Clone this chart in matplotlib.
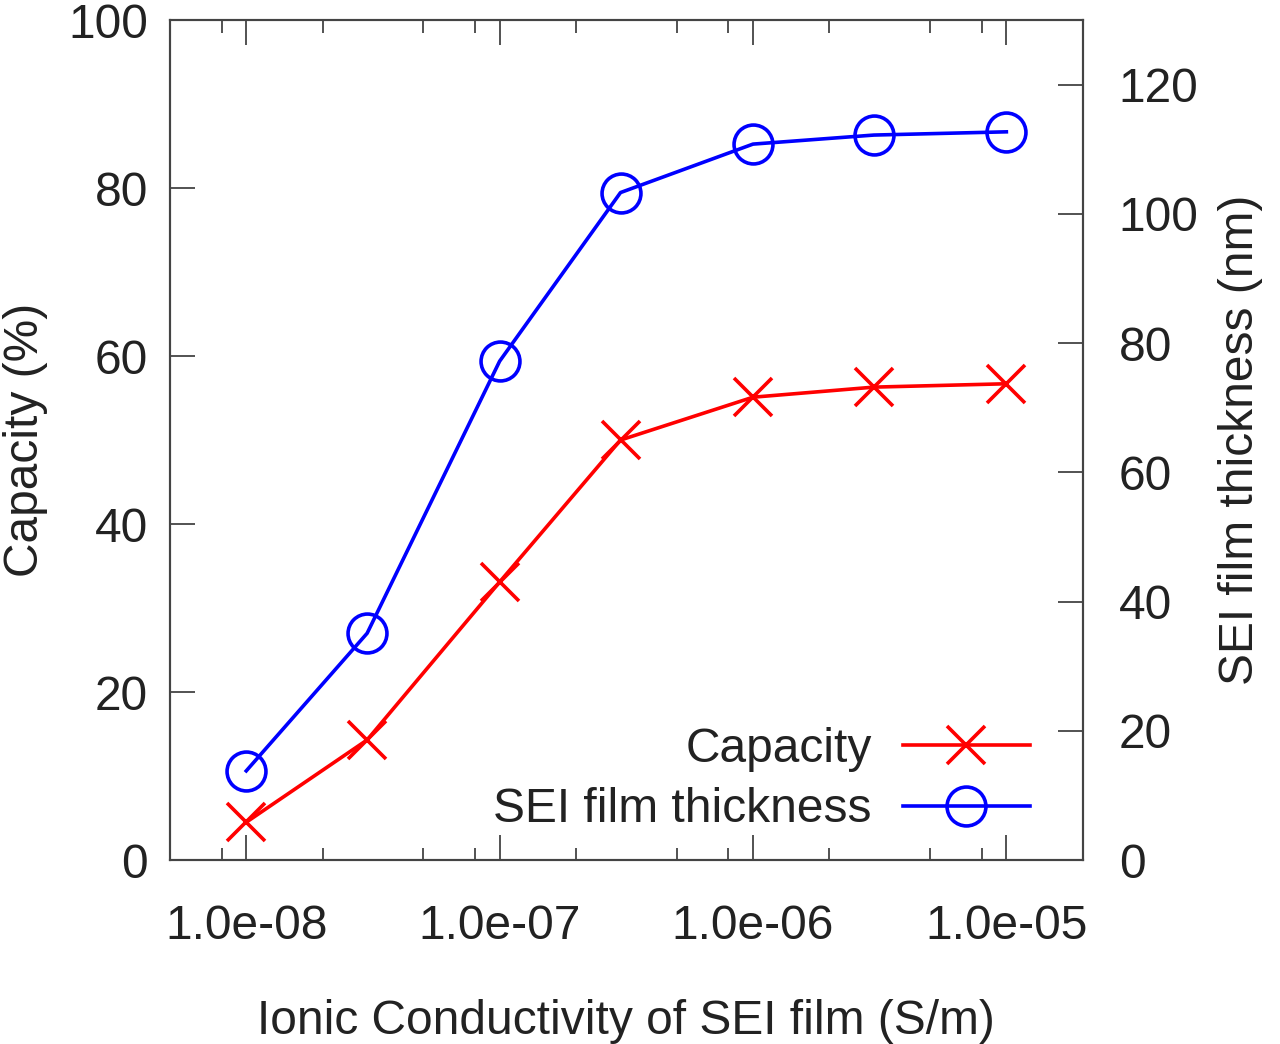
import matplotlib
matplotlib.use("Agg")
import matplotlib.pyplot as plt
from matplotlib.ticker import FixedLocator, FixedFormatter

plt.rcParams['font.family'] = ['Liberation Sans', 'DejaVu Sans']

conductivity = [1e-8, 3e-8, 1e-7, 3e-7, 1e-6, 3e-6, 1e-5]
capacity = [4.5, 14.3, 33.1, 50.0, 55.1, 56.3, 56.7]
sei_thickness = [13.8, 35.1, 77.2, 103.3, 110.8, 112.2, 112.7]

x_major = [1e-8, 1e-7, 1e-6, 1e-5]
x_labels = ["1.0e-08", "1.0e-07", "1.0e-06", "1.0e-05"]
x_minor = [m * 10.0 ** e for e in (-9, -8, -7, -6, -5) for m in (2, 5, 8)]

ink = "#222222"
fs = 34.5

fig = plt.figure(figsize=(12.8, 10.44), dpi=100)
ax = fig.add_axes([0.1328, 0.1762, 0.713, 0.8046])
ax2 = ax.twinx()

ax.set_xscale("log")
ax.set_xlim(5e-9, 2e-5)
ax.set_ylim(0, 100)
ax2.set_ylim(0, 130)

l1, = ax.plot(conductivity, capacity, color="#ff0000", lw=2.6, marker="x",
              markersize=27, markeredgewidth=2.6, label="Capacity")
l2, = ax2.plot(conductivity, sei_thickness, color="#0000ff", lw=2.6, marker="o",
               markersize=28, markeredgewidth=2.6, markerfacecolor="none",
               label="SEI film thickness")

ax.xaxis.set_major_locator(FixedLocator(x_major))
ax.xaxis.set_major_formatter(FixedFormatter(x_labels))
ax.xaxis.set_minor_locator(FixedLocator([v for v in x_minor if 5e-9 < v < 2e-5]))
ax.xaxis.set_minor_formatter(FixedFormatter([]))
ax.set_yticks([0, 20, 40, 60, 80, 100])
ax2.set_yticks([0, 20, 40, 60, 80, 100, 120])

for a in (ax, ax2):
    for s in a.spines.values():
        s.set_color("#444444")
        s.set_linewidth(1.5)

ax.tick_params(axis="x", which="major", direction="in", length=18, width=1.3,
               top=True, colors="#444444", labelcolor=ink, labelsize=fs, pad=32)
ax.tick_params(axis="x", which="minor", direction="in", length=9, width=1.3,
               top=True, colors="#444444")
ax.tick_params(axis="y", direction="in", length=18, width=1.3, colors="#444444",
               labelcolor=ink, labelsize=fs, pad=16)
ax2.tick_params(axis="y", direction="in", length=18, width=1.3, colors="#444444",
                labelcolor=ink, labelsize=fs, pad=26)

ax.set_xlabel("Ionic Conductivity of SEI film (S/m)", fontsize=fs, color=ink, labelpad=36)
ax.set_ylabel("Capacity (%)", fontsize=fs, color=ink, labelpad=14)
ax2.set_ylabel("SEI film thickness (nm)", fontsize=fs, color=ink, labelpad=14)

ax2.legend([l1, l2], ["Capacity", "SEI film thickness"], loc="lower right",
           frameon=False, markerfirst=False, fontsize=fs, handlelength=2.65,
           handletextpad=0.65, labelspacing=0.33, borderaxespad=0.0,
           bbox_to_anchor=(0.963, 0.01), labelcolor=ink)

fig.savefig("out.png", dpi=100)
